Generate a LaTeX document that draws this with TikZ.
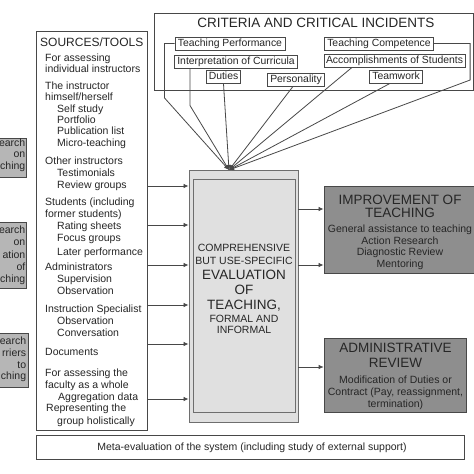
\documentclass[tikz,border=0pt]{standalone}
\usepackage{fontspec}
\setmainfont{Liberation Sans}
\usetikzlibrary{arrows.meta}
\definecolor{ln}{HTML}{484848}
\definecolor{evline}{HTML}{6E6E6E}
\definecolor{lightbox}{HTML}{E0E0E0}
\definecolor{sidebox}{HTML}{B6B6B6}
\definecolor{darkbox}{HTML}{8E8E8E}
\definecolor{txt}{HTML}{262626}
\begin{document}
\begin{tikzpicture}[x=1pt,y=-1pt,
  every node/.style={inner sep=0pt, text=txt, font=\fontsize{10.5}{11.7}\selectfont},
  frame/.style={draw=ln, line width=0.9pt},
  arr/.style={draw=ln, line width=0.8pt, -{Latex[length=5pt,width=4.5pt]}},
  crit/.style={draw=ln, line width=0.8pt, fill=white, font=\fontsize{10.4}{12}\selectfont,
               inner xsep=3pt, inner ysep=1.6pt, text height=7.6pt, text depth=2.2pt},
  big/.style={font=\fontsize{13.5}{15}\selectfont},
  cline/.style={anchor=base},
  sline/.style={anchor=base west},
  sidetext/.style={anchor=east, align=right},
  ]
\useasboundingbox (0,0) rectangle (474,474);
\fill[white] (0,0) rectangle (474,474);

% ---------- criteria frame ----------
\node[frame, fill=white, minimum width=319pt, minimum height=77pt] (critbox) at (313.5,51.5) {};
\node[cline, big] (crittitle) at (316,27.5) {CRITERIA AND CRITICAL INCIDENTS};

% ---------- main boxes ----------
\node[frame, fill=white, minimum width=110.7pt, minimum height=399pt] (src) at (91.8,230.5) {};
\node[draw=evline, line width=0.9pt, fill=lightbox, minimum width=109pt, minimum height=252pt] (evalo) at (243.5,296) {};
\node[draw=evline, line width=0.9pt, fill=lightbox, minimum width=102pt, minimum height=233pt] (evali) at (244,295.5) {};
\node[frame, fill=darkbox, minimum width=152pt, minimum height=86.3pt] (impr) at (400,230) {};
\node[frame, fill=darkbox, minimum width=142.7pt, minimum height=74pt] (admin) at (395.5,375.2) {};
\node[frame, fill=white, minimum width=428pt, minimum height=24.3pt] (meta) at (250,447.2) {};
\node[cline] (metat) at (252,450.5) {Meta-evaluation of the system (including study of external support)};

% ---------- side boxes (cut at left edge) ----------
\node[frame, fill=sidebox, minimum width=45pt, minimum height=38.4pt, anchor=north east] (lb1) at (26.7,138.3) {};
\node[sidetext] (lb1t) at (25.5,155) {earch\\on\\ching};
\node[frame, fill=sidebox, minimum width=45pt, minimum height=66pt, anchor=north east] (lb2) at (27,222) {};
\node[sidetext, font=\fontsize{10.5}{12.3}\selectfont] (lb2t) at (25.5,255.3) {earch\\on\\ation\\of\\ching};
\node[frame, fill=sidebox, minimum width=45pt, minimum height=54pt, anchor=north east] (lb3) at (29.3,333) {};
\node[sidetext] (lb3t) at (26.3,359.5) {earch\\rriers\\to\\ching};

% ---------- criteria labels ----------
\node[crit] (tp) at (230,43.5) {Teaching Performance};
\node[crit] (ic) at (236,61.5) {Interpretation of Curricula};
\node[crit, inner xsep=2pt] (du) at (223.5,77) {Duties};
\node[crit] (pe) at (296,79.5) {Personality};
\node[crit] (tc) at (379,43.5) {Teaching Competence};
\node[crit, inner xsep=2pt] (as) at (394.5,60.5) {Accomplishments of Students};
\node[crit] (tw) at (396,76.5) {Teamwork};

\coordinate (tip) at (229,170);
\draw[arr] (tp.west) -- ++(-10,0) -- ++(0,54.5) -- (tip);
\draw[arr] (ic.south west) ++(16,0) -- ++(0,37) -- (tip);
\draw[arr] (du.south) -- (tip);
\draw[arr] ([xshift=-3pt]pe.south) -- (tip);
\draw[arr] ([xshift=-42.5pt]as.south) -- (tip);
\draw[arr] ([xshift=-6pt]tw.south) -- (tip);
\draw[arr] (tc.east) -- ++(36,0) -- ++(0,36.5) -- (tip);

% ---------- sources text ----------
\node[sline, font=\fontsize{12}{14}\selectfont] (srctitle) at (40,46.5) {SOURCES/TOOLS};
\foreach \xx/\yy/\lbl [count=\i] in {
  45/61/{For assessing},
  45/72.5/{individual instructors},
  45/89.5/{The instructor},
  45/100.8/{himself/herself},
  57/112.2/{Self study},
  57/123.5/{Portfolio},
  57/134.9/{Publication list},
  57/146.3/{Micro-teaching},
  45/164.5/{Other instructors},
  57/176.5/{Testimonials},
  57/188.5/{Review groups},
  45/205.5/{Students (including},
  45/217.3/{former students)},
  57/229.5/{Rating sheets},
  57/241.5/{Focus groups},
  57/255.5/{Later performance},
  45/270/{Administrators},
  57/282.5/{Supervision},
  57/294.8/{Observation},
  45/312.5/{Instruction Specialist},
  57/324.8/{Observation},
  57/336.8/{Conversation},
  45/355/{Documents},
  45/376/{For assessing the},
  45/388.3/{faculty as a whole},
  58/400/{Aggregation data},
  46/411.8/{Representing the},
  57/424/{group holistically}}
  { \node[sline] (s\i) at (\xx,\yy) {\lbl}; }

% ---------- evaluation text ----------
\node[cline] (e1) at (244,251) {COMPREHENSIVE};
\node[cline] (e2) at (244,264.5) {BUT USE-SPECIFIC};
\node[cline, big] (e3) at (244,279.8) {EVALUATION};
\node[cline, big] (e4) at (244,294.8) {OF};
\node[cline, big] (e5) at (244,309.8) {TEACHING,};
\node[cline] (e6) at (244,322) {FORMAL AND};
\node[cline] (e7) at (244,333.8) {INFORMAL};

% ---------- improvement text ----------
\node[cline, big] (i1) at (400,204.8) {IMPROVEMENT OF};
\node[cline, big] (i2) at (400,217.5) {TEACHING};
\node[cline] (i3) at (400,232.5) {General assistance to teaching};
\node[cline] (i4) at (400,244.2) {Action Research};
\node[cline] (i5) at (400,255.9) {Diagnostic Review};
\node[cline] (i6) at (400,267.6) {Mentoring};

% ---------- administrative text ----------
\node[cline, big] (a1) at (395.5,352.8) {ADMINISTRATIVE};
\node[cline, big] (a2) at (395.5,367.5) {REVIEW};
\node[cline] (a3) at (395.5,383.8) {Modification of Duties or};
\node[cline] (a4) at (395.5,395.5) {Contract (Pay, reassignment,};
\node[cline] (a5) at (395.5,407) {termination)};

% ---------- arrows ----------
\foreach \yy in {186,225,265,305,344,399}
  \draw[arr] (src.east |- 0,\yy) -- (evalo.west |- 0,\yy);
\foreach \yy in {209,265}
  \draw[arr] (evalo.east |- 0,\yy) -- (impr.west |- 0,\yy);
\draw[arr] (evalo.east |- 0,367) -- (admin.west |- 0,367);
\end{tikzpicture}
\end{document}
